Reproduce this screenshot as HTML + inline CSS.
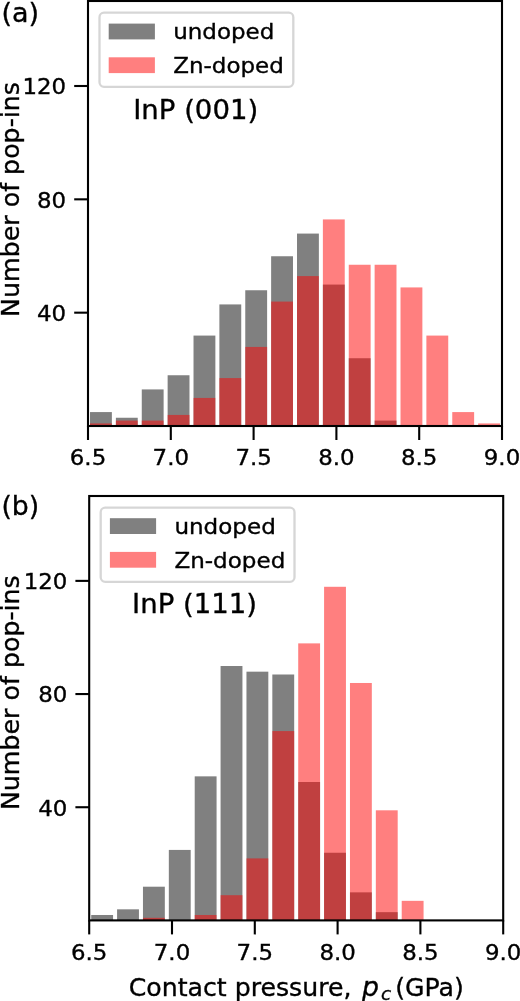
<!DOCTYPE html>
<html><head><meta charset="utf-8"><title>Pop-in histograms</title>
<style>
html,body{margin:0;padding:0;background:#fff;}
svg{display:block}
text{font-family:"DejaVu Sans","Liberation Sans",sans-serif;fill:#000;stroke:#000;stroke-width:0.35px}
.s{stroke:#000;stroke-width:2.1}
</style></head><body>
<svg width="520" height="1001" viewBox="0 0 520 1001">
<rect width="520" height="1001" fill="#fff"/>
<rect x="90.01" y="412.08" width="21.86" height="14.17" fill="#808080"/>
<rect x="115.88" y="417.75" width="21.86" height="8.5" fill="#808080"/>
<rect x="141.76" y="389.42" width="21.86" height="36.83" fill="#808080"/>
<rect x="167.63" y="375.25" width="21.86" height="51" fill="#808080"/>
<rect x="193.51" y="335.58" width="21.86" height="90.67" fill="#808080"/>
<rect x="219.38" y="304.42" width="21.86" height="121.83" fill="#808080"/>
<rect x="245.26" y="290.25" width="21.86" height="136" fill="#808080"/>
<rect x="271.13" y="256.25" width="21.86" height="170" fill="#808080"/>
<rect x="297.01" y="233.58" width="21.86" height="192.67" fill="#808080"/>
<rect x="322.88" y="284.58" width="21.86" height="141.67" fill="#808080"/>
<rect x="348.76" y="358.25" width="21.86" height="68" fill="#808080"/>
<rect x="374.63" y="420.58" width="21.86" height="5.67" fill="#808080"/>
<rect x="90.01" y="423.42" width="21.86" height="2.83" fill="#ff0000" fill-opacity="0.5"/>
<rect x="115.88" y="420.58" width="21.86" height="5.67" fill="#ff0000" fill-opacity="0.5"/>
<rect x="141.76" y="420.58" width="21.86" height="5.67" fill="#ff0000" fill-opacity="0.5"/>
<rect x="167.63" y="414.92" width="21.86" height="11.33" fill="#ff0000" fill-opacity="0.5"/>
<rect x="193.51" y="397.92" width="21.86" height="28.33" fill="#ff0000" fill-opacity="0.5"/>
<rect x="219.38" y="378.08" width="21.86" height="48.17" fill="#ff0000" fill-opacity="0.5"/>
<rect x="245.26" y="346.92" width="21.86" height="79.33" fill="#ff0000" fill-opacity="0.5"/>
<rect x="271.13" y="301.58" width="21.86" height="124.67" fill="#ff0000" fill-opacity="0.5"/>
<rect x="297.01" y="276.08" width="21.86" height="150.17" fill="#ff0000" fill-opacity="0.5"/>
<rect x="322.88" y="219.42" width="21.86" height="206.83" fill="#ff0000" fill-opacity="0.5"/>
<rect x="348.76" y="264.75" width="21.86" height="161.5" fill="#ff0000" fill-opacity="0.5"/>
<rect x="374.63" y="264.75" width="21.86" height="161.5" fill="#ff0000" fill-opacity="0.5"/>
<rect x="400.51" y="287.42" width="21.86" height="138.83" fill="#ff0000" fill-opacity="0.5"/>
<rect x="426.38" y="335.58" width="21.86" height="90.67" fill="#ff0000" fill-opacity="0.5"/>
<rect x="452.26" y="412.08" width="21.86" height="14.17" fill="#ff0000" fill-opacity="0.5"/>
<rect x="478.13" y="423.42" width="21.86" height="2.83" fill="#ff0000" fill-opacity="0.5"/>
<line x1="88" y1="426" x2="88" y2="440" class="s"/>
<text transform="translate(88,464.7) scale(1.04,1)" font-size="22" text-anchor="middle">6.5</text>
<line x1="170.8" y1="426" x2="170.8" y2="440" class="s"/>
<text transform="translate(170.8,464.7) scale(1.04,1)" font-size="22" text-anchor="middle">7.0</text>
<line x1="253.6" y1="426" x2="253.6" y2="440" class="s"/>
<text transform="translate(253.6,464.7) scale(1.04,1)" font-size="22" text-anchor="middle">7.5</text>
<line x1="336.4" y1="426" x2="336.4" y2="440" class="s"/>
<text transform="translate(336.4,464.7) scale(1.04,1)" font-size="22" text-anchor="middle">8.0</text>
<line x1="419.2" y1="426" x2="419.2" y2="440" class="s"/>
<text transform="translate(419.2,464.7) scale(1.04,1)" font-size="22" text-anchor="middle">8.5</text>
<line x1="502" y1="426" x2="502" y2="440" class="s"/>
<text transform="translate(502,464.7) scale(1.04,1)" font-size="22" text-anchor="middle">9.0</text>
<line x1="88" y1="312.67" x2="74.2" y2="312.67" class="s"/>
<text transform="translate(66.1,320.97) scale(1.04,1)" font-size="22" text-anchor="end">40</text>
<line x1="88" y1="199.33" x2="74.2" y2="199.33" class="s"/>
<text transform="translate(66.1,207.63) scale(1.04,1)" font-size="22" text-anchor="end">80</text>
<line x1="88" y1="86" x2="74.2" y2="86" class="s"/>
<text transform="translate(66.1,94.3) scale(1.04,1)" font-size="22" text-anchor="end">120</text>
<rect x="88" y="1" width="414" height="425" fill="none" class="s" stroke-linejoin="miter"/>
<rect x="99.5" y="12.7" width="193.8" height="74.1" rx="4.5" ry="4.5" fill="#fff" fill-opacity="0.8" stroke="#ccc" stroke-opacity="0.8" stroke-width="2.3"/>
<rect x="108.7" y="23.6" width="46.2" height="15.8" fill="#808080"/>
<rect x="108.7" y="57.3" width="46.2" height="15.8" fill="#ff0000" fill-opacity="0.5"/>
<text transform="translate(173.2,39) scale(1.08,1)" font-size="21.3">undoped</text>
<text transform="translate(173.2,72.9) scale(1.08,1)" font-size="21.3">Zn-doped</text>
<text transform="translate(133.2,119.1) scale(1.02,1)" font-size="27">InP (001)</text>
<text transform="translate(19.1,199.45) rotate(-90) scale(1.024,1)" font-size="24.7" text-anchor="middle">Number of pop-ins</text>
<text transform="translate(1.4,22) scale(1.02,1)" font-size="26.5">(a)</text>
<rect x="91.21" y="914.99" width="21.86" height="5.66" fill="#808080"/>
<rect x="117.08" y="909.33" width="21.86" height="11.32" fill="#808080"/>
<rect x="142.96" y="886.7" width="21.86" height="33.95" fill="#808080"/>
<rect x="168.83" y="849.92" width="21.86" height="70.73" fill="#808080"/>
<rect x="194.71" y="776.35" width="21.86" height="144.3" fill="#808080"/>
<rect x="220.58" y="666.01" width="21.86" height="254.64" fill="#808080"/>
<rect x="246.46" y="671.67" width="21.86" height="248.98" fill="#808080"/>
<rect x="272.33" y="674.5" width="21.86" height="246.15" fill="#808080"/>
<rect x="298.21" y="782.01" width="21.86" height="138.64" fill="#808080"/>
<rect x="324.08" y="852.75" width="21.86" height="67.9" fill="#808080"/>
<rect x="349.96" y="892.36" width="21.86" height="28.29" fill="#808080"/>
<rect x="375.83" y="912.16" width="21.86" height="8.49" fill="#808080"/>
<rect x="142.96" y="917.82" width="21.86" height="2.83" fill="#ff0000" fill-opacity="0.5"/>
<rect x="194.71" y="914.99" width="21.86" height="5.66" fill="#ff0000" fill-opacity="0.5"/>
<rect x="220.58" y="895.19" width="21.86" height="25.46" fill="#ff0000" fill-opacity="0.5"/>
<rect x="246.46" y="858.4" width="21.86" height="62.25" fill="#ff0000" fill-opacity="0.5"/>
<rect x="272.33" y="731.08" width="21.86" height="189.57" fill="#ff0000" fill-opacity="0.5"/>
<rect x="298.21" y="643.38" width="21.86" height="277.27" fill="#ff0000" fill-opacity="0.5"/>
<rect x="324.08" y="586.79" width="21.86" height="333.86" fill="#ff0000" fill-opacity="0.5"/>
<rect x="349.96" y="682.99" width="21.86" height="237.66" fill="#ff0000" fill-opacity="0.5"/>
<rect x="375.83" y="810.31" width="21.86" height="110.34" fill="#ff0000" fill-opacity="0.5"/>
<rect x="401.71" y="900.84" width="21.86" height="19.81" fill="#ff0000" fill-opacity="0.5"/>
<line x1="89.2" y1="920.4" x2="89.2" y2="934.4" class="s"/>
<text transform="translate(89.2,959.7) scale(1.04,1)" font-size="22" text-anchor="middle">6.5</text>
<line x1="172" y1="920.4" x2="172" y2="934.4" class="s"/>
<text transform="translate(172,959.7) scale(1.04,1)" font-size="22" text-anchor="middle">7.0</text>
<line x1="254.8" y1="920.4" x2="254.8" y2="934.4" class="s"/>
<text transform="translate(254.8,959.7) scale(1.04,1)" font-size="22" text-anchor="middle">7.5</text>
<line x1="337.6" y1="920.4" x2="337.6" y2="934.4" class="s"/>
<text transform="translate(337.6,959.7) scale(1.04,1)" font-size="22" text-anchor="middle">8.0</text>
<line x1="420.4" y1="920.4" x2="420.4" y2="934.4" class="s"/>
<text transform="translate(420.4,959.7) scale(1.04,1)" font-size="22" text-anchor="middle">8.5</text>
<line x1="503.2" y1="920.4" x2="503.2" y2="934.4" class="s"/>
<text transform="translate(503.2,959.7) scale(1.04,1)" font-size="22" text-anchor="middle">9.0</text>
<line x1="89.2" y1="807.23" x2="75.4" y2="807.23" class="s"/>
<text transform="translate(67.3,815.53) scale(1.04,1)" font-size="22" text-anchor="end">40</text>
<line x1="89.2" y1="694.05" x2="75.4" y2="694.05" class="s"/>
<text transform="translate(67.3,702.35) scale(1.04,1)" font-size="22" text-anchor="end">80</text>
<line x1="89.2" y1="580.88" x2="75.4" y2="580.88" class="s"/>
<text transform="translate(67.3,589.18) scale(1.04,1)" font-size="22" text-anchor="end">120</text>
<rect x="89.2" y="496" width="414" height="424.4" fill="none" class="s" stroke-linejoin="miter"/>
<rect x="100.7" y="507.7" width="193.8" height="74.1" rx="4.5" ry="4.5" fill="#fff" fill-opacity="0.8" stroke="#ccc" stroke-opacity="0.8" stroke-width="2.3"/>
<rect x="109.9" y="518.2" width="46.2" height="15.8" fill="#808080"/>
<rect x="109.9" y="551.9" width="46.2" height="15.8" fill="#ff0000" fill-opacity="0.5"/>
<text transform="translate(174.4,534) scale(1.082,1)" font-size="21.3">undoped</text>
<text transform="translate(174.4,567.9) scale(1.082,1)" font-size="21.3">Zn-doped</text>
<text transform="translate(132.1,612.7) scale(1.02,1)" font-size="27">InP (111)</text>
<text transform="translate(19.1,692.65) rotate(-90) scale(1.024,1)" font-size="24.7" text-anchor="middle">Number of pop-ins</text>
<text transform="translate(1.4,515) scale(0.99,1)" font-size="27">(b)</text>
<text transform="translate(128.7,995.7) scale(1.0,1)" font-size="25.2">Contact pressure,</text>
<text transform="translate(362,995.7) scale(1.0,1)" font-size="26.7" font-style="italic">p</text>
<text transform="translate(381,1000.2) scale(1.0,1)" font-size="18.5" font-style="italic">c</text>
<text transform="translate(395.2,995.7) scale(1.0,1)" font-size="25.2">(GPa)</text>
</svg>
</body></html>
